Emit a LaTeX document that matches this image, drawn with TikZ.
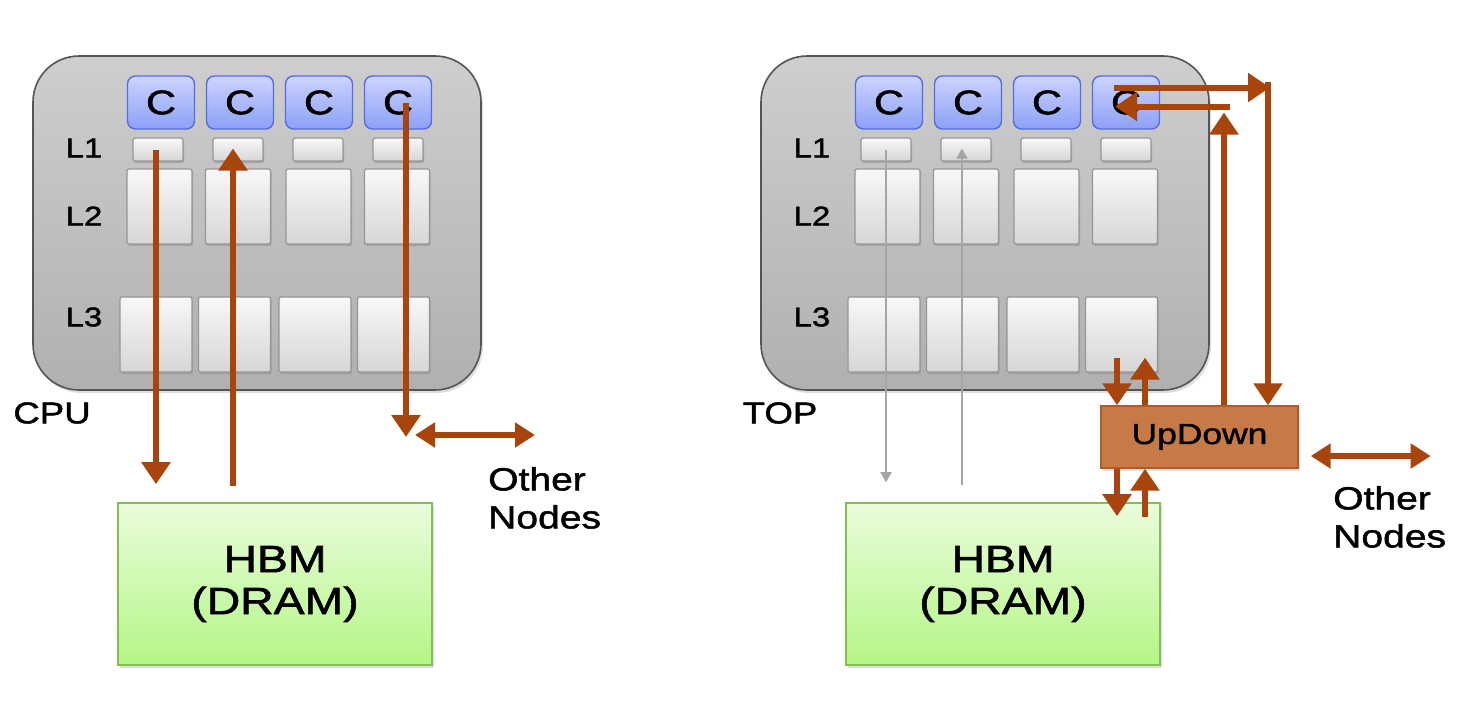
\documentclass[tikz,border=0pt]{standalone}
\usepackage{fontspec}
\setmainfont{Liberation Sans}[FakeStretch=1.22,FakeBold=1.6]
\usetikzlibrary{arrows.meta,calc,shadows}
\definecolor{arrc}{RGB}{168,69,12}
\definecolor{udfill}{RGB}{200,122,70}
\definecolor{udline}{RGB}{176,90,40}
\definecolor{hbmtop}{RGB}{234,252,220}
\definecolor{hbmbot}{RGB}{180,246,134}
\definecolor{hbmline}{RGB}{130,190,80}
\definecolor{pantop}{RGB}{206,206,206}
\definecolor{panbot}{RGB}{176,176,176}
\definecolor{panline}{RGB}{85,85,85}
\definecolor{ctop}{RGB}{205,212,255}
\definecolor{cbot}{RGB}{140,160,245}
\definecolor{cline}{RGB}{85,108,228}
\definecolor{ktop}{RGB}{248,248,248}
\definecolor{kbot}{RGB}{214,214,214}
\definecolor{kline}{RGB}{150,150,150}
\definecolor{garr}{RGB}{165,165,165}
\tikzset{
  panelbox/.style={draw=panline, line width=1.6pt, rounded corners=46pt,
    top color=pantop, bottom color=panbot, inner sep=0pt,
    drop shadow={opacity=0.25, shadow xshift=2pt, shadow yshift=-3pt}},
  corebox/.style={draw=cline, line width=1.4pt, rounded corners=8pt,
    top color=ctop, bottom color=cbot, inner sep=0pt,
    minimum width=67pt, minimum height=53pt,
    font=\fontsize{34}{40}\selectfont},
  cachebox/.style={draw=kline, line width=1.2pt, rounded corners=1.5pt,
    top color=ktop, bottom color=kbot, inner sep=0pt,
    drop shadow={opacity=0.4, shadow xshift=1pt, shadow yshift=-2pt}},
  lvl/.style={font=\fontsize{27}{30}\selectfont, inner sep=0pt},
  hbmbox/.style={draw=hbmline, line width=1.6pt, top color=hbmtop,
    bottom color=hbmbot, inner sep=0pt, align=center,
    minimum width=314pt, minimum height=162pt,
    font=\fontsize{38}{42}\selectfont,
    drop shadow={opacity=0.25, shadow xshift=2pt, shadow yshift=-3pt}},
  udbox/.style={draw=udline, line width=1.4pt, fill=udfill, inner sep=0pt,
    minimum width=197pt, minimum height=62pt,
    font=\fontsize{29}{33}\selectfont,
    drop shadow={opacity=0.25, shadow xshift=2pt, shadow yshift=-3pt}},
  lbl/.style={font=\fontsize{30}{36}\selectfont, inner sep=0pt},
  other/.style={font=\fontsize{32}{38}\selectfont, inner sep=0pt, align=left, anchor=north west},
  arr/.style={draw=arrc, line width=6pt, -{Triangle[width=28pt,length=22pt]}},
  arrline/.style={draw=arrc, line width=6pt},
  darr/.style={draw=arrc, line width=6pt, {Triangle[width=24pt,length=20pt]}-{Triangle[width=24pt,length=20pt]}},
  garrow/.style={draw=garr, line width=2pt, -{Triangle[width=11pt,length=10pt]}},
  cpanel/.pic={
    \node[panelbox, minimum width=448pt, minimum height=334pt] (-box) at (257,223) {};
    \foreach \i/\x in {1/161,2/240,3/319,4/398}{
      \node[corebox] (-c\i) at (\x,102.5) {C};
    }
    \foreach \i/\x in {1/158,2/238,3/318,4/398}{
      \node[cachebox, minimum width=50pt, minimum height=23pt] (-la\i) at (\x,149.5) {};
    }
    \foreach \i/\x in {1/159.5,2/238,3/318.5,4/397}{
      \node[cachebox, minimum width=65pt, minimum height=75pt] (-lb\i) at (\x,206.5) {};
    }
    \foreach \i/\x in {1/156,2/234.5,3/315,4/393.5}{
      \node[cachebox, minimum width=72pt, minimum height=75pt] (-lc\i) at (\x,334.5) {};
    }
    \node[lvl] (-t1) at (84,148) {L1};
    \node[lvl] (-t2) at (84,216) {L2};
    \node[lvl] (-t3) at (84,317) {L3};
    \node[hbmbox] (-hbm) at (275,584) {HBM\\(DRAM)};
  }
}
\begin{document}
\begin{tikzpicture}[x=1pt,y=-1pt]
\useasboundingbox[fill=white] (0,0) rectangle (1482,702);

% ---------- left panel (CPU) ----------
\pic (L) at (0,0) {cpanel};
\node[lbl] (cpu) at (52,413) {CPU};
\node[other] (oth1) at (488,467) {Other\\Nodes};
\coordinate (j1) at (406,437);
\coordinate (o1a) at (415,435);
\coordinate (o1b) at (535,435);

\draw[arr] ($(L-la1.center)+(-2,0)$) -- ($(L-la1.center |- L-hbm.north)+(-2,-18)$);
\draw[arr] ($(L-la2.center |- L-hbm.north)+(-5,-16)$) -- ($(L-la2.center)+(-5,-1)$);
\draw[arr] ($(L-c4.center)+(8,0)$) -- (j1);
\draw[darr] (o1a) -- (o1b);

% ---------- right panel (TOP) ----------
\pic (R) at (728,0) {cpanel};
\node[lbl] (top) at (780,413) {TOP};
\node[udbox] (ud) at (1199.5,437) {UpDown};
\node[other] (oth2) at (1333,486) {Other\\Nodes};

\draw[garrow] (R-la1.center) -- ($(R-la1.center |- R-hbm.north)+(0,-20)$);
\draw[garrow] ($(R-la2.center |- R-hbm.north)+(-4,-17)$) -- ($(R-la2.center)+(-4,-1)$);

\coordinate (xd) at (1117,0);
\coordinate (xu) at (1145,0);
\coordinate (xr) at (1268,0);
\coordinate (xl) at (1224,0);

\draw[arr] ($(xd |- R-lc4.south)+(0,-15)$) -- (xd |- ud.north);
\draw[arr] (xu |- ud.north) -- ($(xu |- R-lc4.south)+(0,-15)$);
\draw[arr] (xd |- ud.south) -- ($(xd |- R-hbm.north)+(0,14)$);
\draw[arr] ($(xu |- R-hbm.north)+(0,15)$) -- (xu |- ud.south);

\coordinate (h1s) at ($(R-c4.center)+(-12,-15)$);
\draw[arrline] ($(h1s -| xr)+(0,-6)$) -- ($(xr |- ud.north)+(0,-18)$);
\draw[arr] ($(xr |- ud.north)+(0,-20)$) -- (xr |- ud.north);
\draw[arr] (h1s) -- ($(h1s -| xr)+(2,0)$);
\draw[arr] (xl |- ud.north) -- ($(xl |- R-c4.center)+(0,10)$);
\draw[arr] ($(xl |- R-c4.center)+(6,4)$) -- ($(R-c4.center)+(-11,4)$);

\draw[darr] ($(ud.east)+(12,19)$) -- ($(ud.east)+(132,19)$);
\end{tikzpicture}
\end{document}
